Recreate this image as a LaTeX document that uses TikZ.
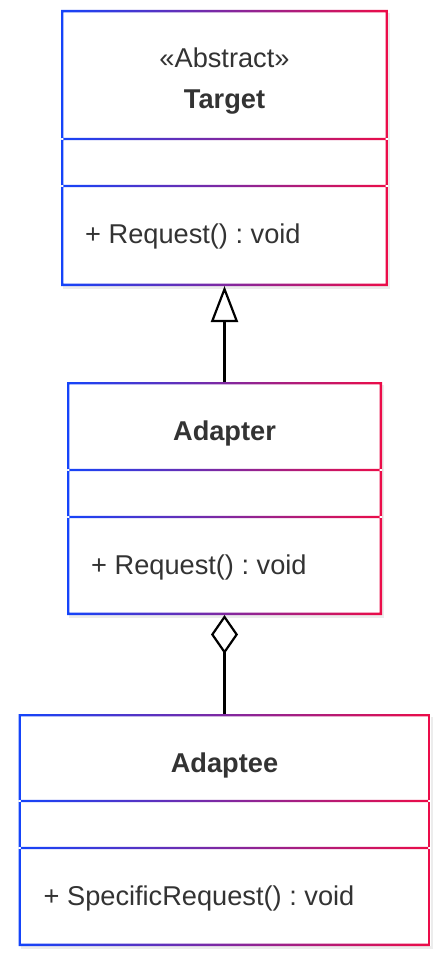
\documentclass[tikz,border=0pt]{standalone}
\usepackage{fontspec}
\setmainfont{Liberation Sans}
\usetikzlibrary{positioning,arrows.meta,shadows}
\definecolor{umlblue}{RGB}{20,68,250}
\definecolor{umlred}{RGB}{236,12,72}
\definecolor{umltext}{RGB}{51,51,51}
\frenchspacing
\tikzset{
    classbox/.style={rectangle, inner sep=0pt, outer sep=0pt, fill=white,
        drop shadow={opacity=0.15, shadow xshift=2pt, shadow yshift=-3pt}},
    frame/.style={left color=umlblue, right color=umlred, even odd rule, draw=none},
    classname/.style={text=umltext, font=\fontsize{27.2}{31}\selectfont\bfseries},
    stereo/.style={text=umltext, font=\fontsize{27.2}{31}\selectfont},
    member/.style={text=umltext, font=\fontsize{27.2}{31}\selectfont, anchor=west, inner sep=0pt},
    link/.style={line width=2.2pt, black}
}
\begin{document}
\begin{tikzpicture}[x=1pt, y=-1pt]
    \useasboundingbox (0, 0) rectangle (445, 963);
    % the three classes
    \node[classbox, minimum width=327pt, minimum height=276pt] (target) at (224.5, 148) {};
    \node[classbox, minimum width=315pt, minimum height=233pt, below=96pt of target] (adapter) {};
    \node[classbox, minimum width=412pt, minimum height=232pt, below=99pt of adapter] (adaptee) {};
    % gradient frames and compartments
    \foreach \n/\d in {target/129, adapter/88, adaptee/87} {
        \shade[frame] (\n.north west) rectangle (\n.south east)
            ([shift={(2.4, 2.4)}]\n.north west) rectangle ([shift={(-2.4, -2.4)}]\n.south east)
            ([shift={(0, \d - 1.2)}]\n.north west) rectangle ([shift={(0, \d + 1.2)}]\n.north east)
            ([shift={(0, \d + 45.8)}]\n.north west) rectangle ([shift={(0, \d + 48.2)}]\n.north east);
    }
    % texts
    \node[stereo] (target-st) at ([shift={(0, 48)}]target.north) {«Abstract»};
    \node[classname] (target-name) at ([shift={(0, 92)}]target.north) {Target};
    \node[member] (target-op) at ([shift={(24, 226)}]target.north west) {+ Request() : void};
    \node[classname] (adapter-name) at ([shift={(0, 51)}]adapter.north) {Adapter};
    \node[member] (adapter-op) at ([shift={(24, 185)}]adapter.north west) {+ Request() : void};
    \node[classname] (adaptee-name) at ([shift={(0, 51)}]adaptee.north) {Adaptee};
    \node[member] (adaptee-op) at ([shift={(25, 184)}]adaptee.north west) {+ SpecificRequest() : void};
    % relations
    \draw[link, -{Triangle[open, length=36pt, width=27pt]}] (adapter.north) -- (target.south);
    \draw[link, {Diamond[open, length=39pt, width=27pt]}-] (adapter.south) -- (adaptee.north);
\end{tikzpicture}
\end{document}
